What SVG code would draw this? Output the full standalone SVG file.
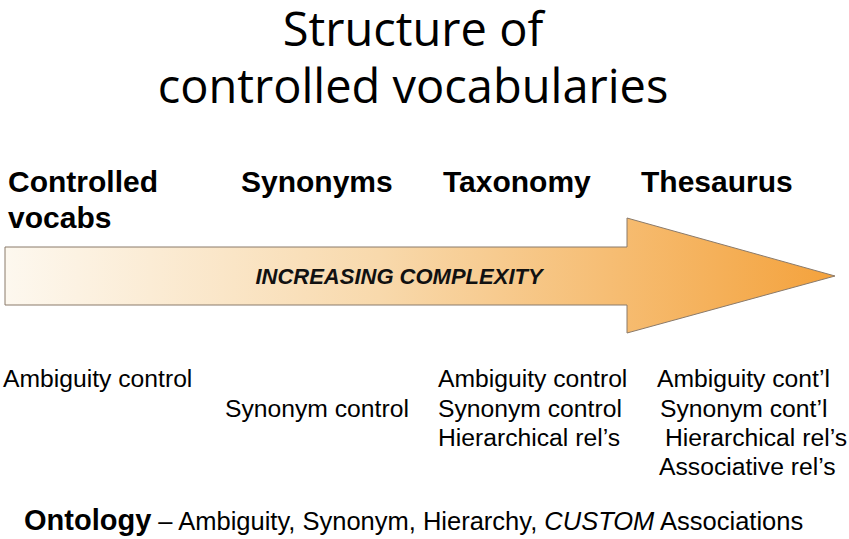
<svg xmlns="http://www.w3.org/2000/svg" width="849" height="539" viewBox="0 0 849 539">
<defs>
<linearGradient id="g" x1="5" y1="0" x2="835" y2="0" gradientUnits="userSpaceOnUse">
<stop offset="0" stop-color="#fdf8ef"/>
<stop offset="0.45" stop-color="#f8d9ac"/>
<stop offset="1" stop-color="#f4a23c"/>
</linearGradient>
<style>
.t{font-family:"Open Sans","Noto Sans",sans-serif;font-size:47px;fill:#000;text-anchor:middle}
.h{font-family:"Liberation Sans",Arial,sans-serif;font-weight:bold;font-size:30px;fill:#000}
.b{font-family:"Liberation Sans",Arial,sans-serif;font-size:24.7px;fill:#000}
</style>
</defs>
<rect width="849" height="539" fill="#fff"/>
<g id="title">
<text class="t" x="413" y="46">Structure of</text>
<text class="t" x="413" y="103">controlled vocabularies</text>
</g>
<g id="arrow">
<path d="M5,247 H627 V218 L835,276 L627,333 V305 H5 Z" fill="url(#g)" stroke="#8a7a6a" stroke-width="1"/>
<text x="399" y="284" text-anchor="middle" style="font-family:'Liberation Sans',Arial,sans-serif;font-weight:bold;font-style:italic;font-size:22px;fill:#111">INCREASING COMPLEXITY</text>
</g>
<g id="controlled-vocabs">
<text class="h" x="8" y="192">Controlled</text>
<text class="h" x="8" y="228">vocabs</text>
<text class="b" x="3" y="387">Ambiguity control</text>
</g>
<g id="synonyms">
<text class="h" x="241" y="192">Synonyms</text>
<text class="b" x="225" y="417">Synonym control</text>
</g>
<g id="taxonomy">
<text class="h" x="443" y="192">Taxonomy</text>
<text class="b" x="438" y="387">Ambiguity control</text>
<text class="b" x="438" y="417">Synonym control</text>
<text class="b" x="438" y="446">Hierarchical rel’s</text>
</g>
<g id="thesaurus">
<text class="h" x="641" y="192">Thesaurus</text>
<text class="b" x="657" y="387">Ambiguity cont’l</text>
<text class="b" x="660" y="417">Synonym cont’l</text>
<text class="b" x="665" y="446">Hierarchical rel’s</text>
<text class="b" x="659" y="475">Associative rel’s</text>
</g>
<g id="ontology">
<text x="24" y="530" style="font-family:'Liberation Sans',Arial,sans-serif;font-size:25.5px;fill:#000"><tspan style="font-weight:bold;font-size:29px">Ontology</tspan> – Ambiguity, Synonym, Hierarchy, <tspan font-style="italic">CUSTOM</tspan> Associations</text>
</g>
</svg>
